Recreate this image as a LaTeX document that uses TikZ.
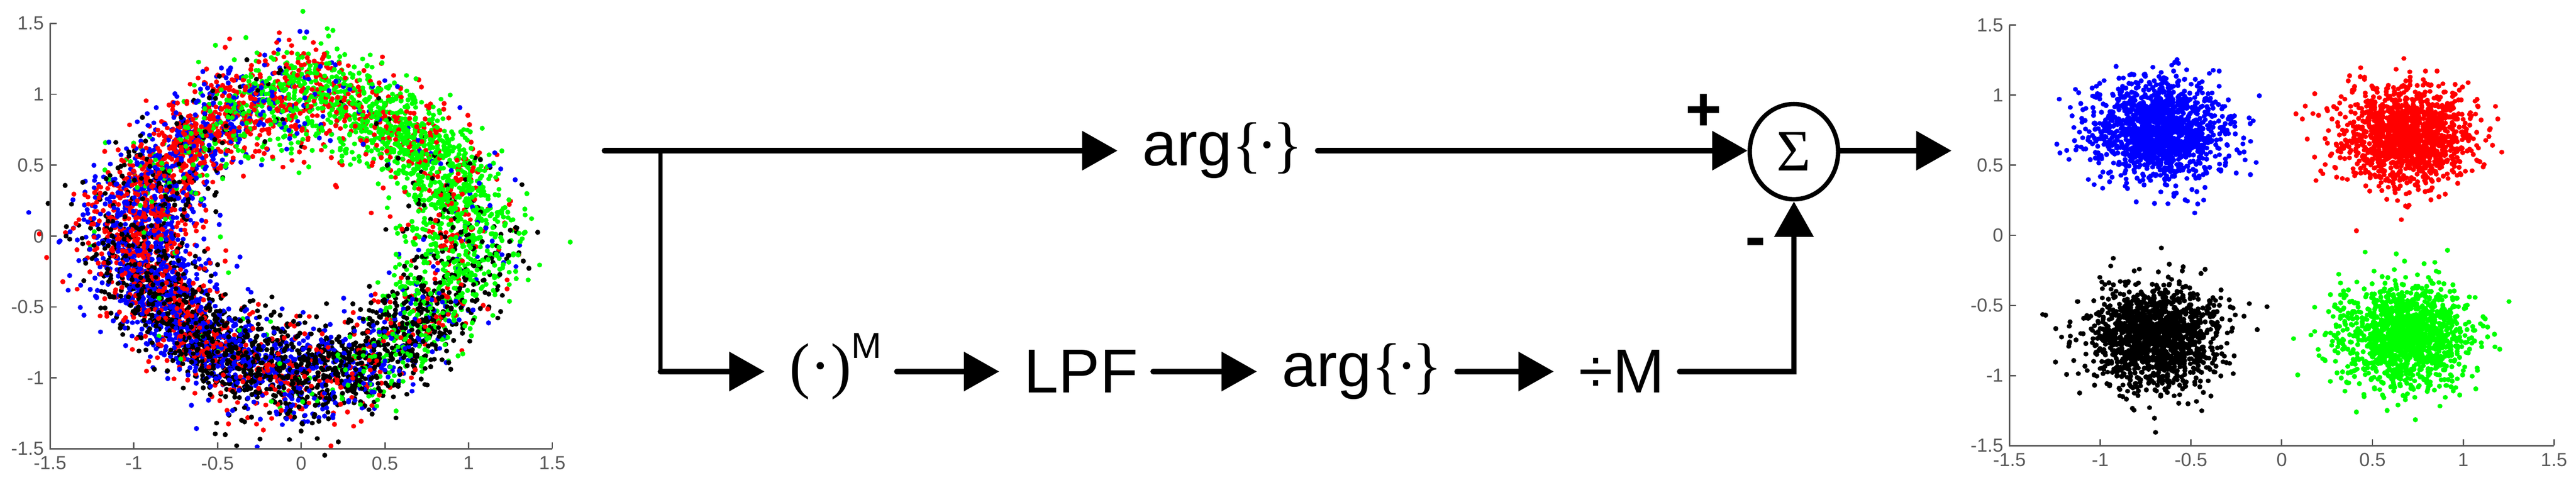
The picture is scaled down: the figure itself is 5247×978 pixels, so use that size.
\documentclass[tikz,border=0pt]{standalone}
\usepackage{fontspec}
\setmainfont{Liberation Sans}
\newfontfamily\serifsym{Liberation Serif}
\usetikzlibrary{arrows.meta,shapes.geometric}

\begin{document}
\begin{tikzpicture}[x=0.1mm,y=-0.1mm,
  declare function={gs(\s)=\s*sqrt(abs(2*ln(0.0005+0.4995*(rand+1))))*(0*rand+cos(180*rand))+0*rand;},
  sig/.style={line width=1.1mm,line cap=round},
  arr/.style={sig,-{Triangle[length=7.2mm,width=7.8mm]}},
  gap/.style={shorten >=2mm},
  blk/.style={inner xsep=3mm,inner ysep=0pt,font=\fontsize{36}{40}\selectfont},
  sgn/.style={inner sep=0pt,font=\bfseries\fontsize{36}{40}\selectfont},
  dots/.style={draw=#1,line width=1mm,line cap=round},
  axis/.style={draw=black!65,line width=0.3mm},
  tick/.style={inner sep=0pt,text=black!65,font=\fontsize{11}{12}\selectfont}]
\useasboundingbox (0,0) rectangle (5247,978);
\pgfmathsetseed{4242}

\begin{scope}[shift={(613.5,481)},x=34.1mm,y=28.9mm]
\foreach \j in {1,...,9}{
  \foreach \c/\m/\s in {blue/205/65,red/150/80,black/255/60,green/40/55}{
    \path[dots=\c] \foreach \i in {1,...,190}{({\m+gs(\s)}:{0.97+gs(0.19)})--++(0.1pt,0)};
  }
}
\draw[axis] (-1.5,1.5)--(-1.5,-1.5)--(1.5,-1.5);
\foreach \v [count=\k] in {-1.5,-1,-0.5,0,0.5,1,1.5}{
  \draw[axis] (\v,-1.5)--++(0,1.3mm);
  \draw[axis] (-1.5,\v)--++(1.3mm,0);
  \node[tick,anchor=north,name=lx\k] at ([yshift=-1.5mm]\v,-1.5) {\v};
  \node[tick,anchor=east,name=ly\k] at ([xshift=-1.2mm]-1.5,\v) {\v};
}
\end{scope}

\begin{scope}[shift={(4647.5,479.5)},x=36.97mm,y=28.57mm]
\foreach \c/\a/\b in {blue/-0.68/0.75,red/0.68/0.72,black/-0.7/-0.72,green/0.68/-0.72}{
  \path[dots=\c] \foreach \i in {1,...,1400}{({\a+gs(0.18)},{\b+gs(0.18)})--++(0.1pt,0)};
}
\draw[axis] (-1.5,1.5)--(-1.5,-1.5)--(1.5,-1.5);
\foreach \v [count=\k] in {-1.5,-1,-0.5,0,0.5,1,1.5}{
  \draw[axis] (\v,-1.5)--++(0,1.3mm);
  \draw[axis] (-1.5,\v)--++(1.3mm,0);
  \node[tick,anchor=north,name=rx\k] at ([yshift=-1.5mm]\v,-1.5) {\v};
  \node[tick,anchor=east,name=ry\k] at ([xshift=-1.2mm]-1.5,\v) {\v};
}
\end{scope}

\coordinate (in) at (1231,307);
\coordinate (split) at (1345,307);
\coordinate (out) at (3975,307);
\node [blk,name=argt] at (2490,307) {arg{\serifsym\{\kern-0.08em·\kern-0.08em\}}};
\node [draw,ellipse,line width=0.9mm,minimum width=18mm,minimum height=19.4mm,inner sep=0pt,name=sum] at (3654,309) {\serifsym\fontsize{34}{34}\selectfont Σ};
\node [blk,name=pow] at (1702,757) {{\serifsym(·)}\raisebox{5.8mm}[0pt][0pt]{\fontsize{21}{21}\selectfont M}};
\node [blk,name=lpf] at (2202,757) {LPF};
\node [blk,name=argb] at (2774,757) {arg{\serifsym\{\kern-0.08em·\kern-0.08em\}}};
\node [blk,name=divm] at (3303,757) {÷M};
\node [sgn,name=plus] at (3470,229) {+};
\node [sgn,name=minus] at (3576,505) {-};

\draw[arr,gap] (in)--(argt);
\draw[line width=0.8mm] (split)--(split|-pow);
\draw[arr,gap] (split|-pow)--(pow);
\draw[arr,gap] (pow)--(lpf);
\draw[arr,gap] (lpf)--(argb);
\draw[arr,gap] (argb)--(divm);
\draw[arr] (argt)--(argt-|sum.west);
\draw[arr] (divm)-|(sum);
\draw[arr] (sum.east|-out)--(out);
\end{tikzpicture}
\end{document}
